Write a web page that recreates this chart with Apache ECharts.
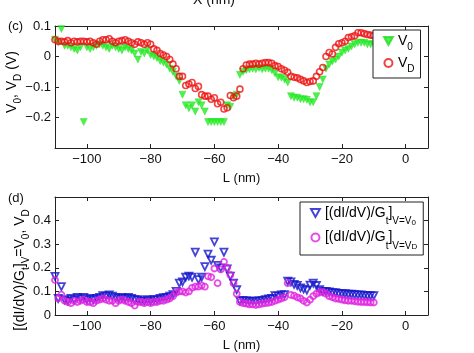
<!DOCTYPE html>
<html>
<head>
<meta charset="utf-8">
<script src="https://cdn.jsdelivr.net/npm/echarts@6/dist/echarts.min.js"></script>
<style>
  html, body { margin: 0; padding: 0; background: #fff; }
  #chart { width: 474px; height: 353px; }
</style>
</head>
<body>
<div id="chart"></div>
<script>
// position along the line (nm)
const L = [
  -110, -109, -108, -107, -106, -105, -104, -103, -102, -101,
  -100, -99, -98, -97, -96, -95, -94, -93, -92, -91,
  -90, -89, -88, -87, -86, -85, -84, -83, -82, -81,
  -80, -79, -78, -77, -76, -75, -74, -73, -72, -71,
  -70, -69, -68, -67, -66, -65, -64, -63, -62, -61,
  -60, -59, -58, -57, -56, -55, -54, -53, -52, -51,
  -50, -49, -48, -47, -46, -45, -44, -43, -42, -41,
  -40, -39, -38, -37, -36, -35, -34, -33, -32, -31,
  -30, -29, -28, -27, -26, -25, -24, -23, -22, -21,
  -20, -19, -18, -17, -16, -15, -14, -13, -12, -11, -10
];
// (c) V0
const V0 = [
  0.055, 0.045, 0.09, 0.035, 0.035, 0.03, 0.025, 0.02, 0.03, -0.215,
  0.03, 0.025, 0.03, 0.035, 0.04, 0.035, 0.03, 0.025, 0.035, 0.03,
  0.025, 0.02, 0.03, 0.025, 0.02, 0.01, -0.01, 0.015, 0.01, 0.02,
  0.005, 0.0, -0.005, -0.015, -0.02, -0.026, -0.04, -0.05, -0.065, -0.08,
  -0.125, -0.16, -0.17, -0.16, -0.18, -0.15, -0.16, -0.18, -0.215, -0.215,
  -0.215, -0.215, -0.215, -0.215, -0.16, -0.165, -0.13, -0.125, -0.06, -0.05,
  -0.045, -0.042, -0.04, -0.042, -0.038, -0.042, -0.04, -0.04, -0.045, -0.055,
  -0.068, -0.07, -0.075, -0.085, -0.13, -0.135, -0.135, -0.14, -0.14, -0.142,
  -0.15, -0.15, -0.13, -0.1, -0.075, -0.04, -0.026, -0.016, -0.01, 0.0,
  0.013, 0.02, 0.025, 0.033, 0.04, 0.045, 0.045, 0.045, 0.04, 0.04, 0.04
];
// (c) VD
const VD = [
  0.055, 0.05, 0.05, 0.048, 0.052, 0.045, 0.05, 0.048, 0.05, 0.05,
  0.048, 0.05, 0.045, 0.04, 0.05, 0.055, 0.055, 0.058, 0.05, 0.045,
  0.05, 0.052, 0.055, 0.05, 0.045, 0.04, 0.048, 0.045, 0.04, 0.045,
  0.04, 0.025, 0.02, 0.01, 0.005, 0.0, -0.01, -0.025, -0.04, -0.065,
  -0.065, -0.095, -0.09, -0.085, -0.105, -0.098, -0.125, -0.13, -0.13, -0.14,
  -0.135, -0.155, -0.15, -0.172, -0.168, -0.128, -0.135, -0.13, -0.107, -0.04,
  -0.028, -0.025, -0.025, -0.022, -0.025, -0.022, -0.02, -0.02, -0.022, -0.03,
  -0.033, -0.04, -0.045, -0.052, -0.065, -0.068, -0.07, -0.075, -0.08, -0.085,
  -0.082, -0.08, -0.065, -0.05, -0.036, 0.0, 0.013, 0.008, 0.03, 0.042,
  0.045, 0.05, 0.062, 0.065, 0.068, 0.078, 0.078, 0.075, 0.072, 0.07, 0.068
];
// (d) normalised dI/dV at V = V0
const G0 = [
  0.164, 0.07, 0.12, 0.065, 0.06, 0.07, 0.065, 0.075, 0.07, 0.075,
  0.065, 0.07, 0.065, 0.07, 0.075, 0.082, 0.08, 0.085, 0.08, 0.075,
  0.07, 0.075, 0.07, 0.075, 0.07, 0.065, 0.065, 0.06, 0.06, 0.065,
  0.06, 0.065, 0.065, 0.07, 0.074, 0.075, 0.08, 0.086, 0.1, 0.135,
  0.14, 0.16, 0.165, 0.16, 0.266, 0.15, 0.16, 0.205, 0.258, 0.232,
  0.31, 0.21, 0.2, 0.266, 0.195, 0.165, 0.135, 0.107, 0.06, 0.062,
  0.06, 0.058, 0.06, 0.058, 0.06, 0.062, 0.065, 0.068, 0.07, 0.082,
  0.08, 0.085, 0.086, 0.143, 0.14, 0.13, 0.125, 0.115, 0.11, 0.105,
  0.127, 0.135, 0.125, 0.107, 0.1, 0.1, 0.098, 0.095, 0.095, 0.092,
  0.09, 0.09, 0.088, 0.088, 0.086, 0.085, 0.085, 0.083, 0.082, 0.082, 0.082
];
// (d) normalised dI/dV at V = VD
const GD = [
  0.148, 0.07, 0.086, 0.06, 0.055, 0.05, 0.06, 0.055, 0.06, 0.065,
  0.055, 0.055, 0.05, 0.06, 0.065, 0.07, 0.065, 0.06, 0.06, 0.05,
  0.06, 0.065, 0.06, 0.055, 0.05, 0.04, 0.055, 0.055, 0.05, 0.055,
  0.05, 0.055, 0.055, 0.06, 0.06, 0.065, 0.07, 0.08, 0.094, 0.1,
  0.1, 0.095, 0.1, 0.115, 0.12, 0.12, 0.125, 0.12, 0.164, 0.16,
  0.197, 0.135, 0.193, 0.225, 0.2, 0.17, 0.135, 0.09, 0.055, 0.05,
  0.048, 0.045, 0.045, 0.042, 0.045, 0.048, 0.05, 0.052, 0.055, 0.06,
  0.065, 0.07, 0.075, 0.135, 0.085, 0.082, 0.075, 0.07, 0.06, 0.053,
  0.065, 0.08, 0.09, 0.095, 0.098, 0.09, 0.08, 0.075, 0.07, 0.068,
  0.065, 0.062, 0.06, 0.06, 0.058, 0.056, 0.055, 0.055, 0.054, 0.053, 0.053
];
const xTicks = [-100, -80, -60, -40, -20, 0];
const yTicksC = [-0.2, -0.1, 0, 0.1];
const yTicksD = [0, 0.1, 0.2, 0.3, 0.4];

const FONT = "Liberation Sans, Arial, sans-serif";
const INK = "#222";
const DOWN = "path://M0,0 L10,0 L5,9 Z";

const rich = {
  m: { fontSize: 14, fontFamily: FONT, color: "#000" },
  s: { fontSize: 10, fontFamily: FONT, color: "#000", verticalAlign: "bottom", lineHeight: 22 },
  ss: { fontSize: 8, fontFamily: FONT, color: "#000", verticalAlign: "bottom", lineHeight: 27 },
};

const minus = (v) => String(v).replace("-", "\u2212");
const pairs = (ys) => L.map((x, i) => [x, ys[i]]);

function xAxes(grid) {
  const base = {
    type: "value", gridIndex: grid, min: -110, max: 7,
    splitLine: { show: false },
    axisLine: { onZero: false, lineStyle: { color: INK } },
    axisTick: { inside: true, length: 4, customValues: xTicks, lineStyle: { color: INK } },
  };
  return [
    Object.assign({}, base, {
      position: "bottom",
      name: "L (nm)", nameLocation: "middle", nameGap: 24,
      nameTextStyle: { fontSize: 13, fontFamily: FONT, color: "#111" },
      axisLabel: { customValues: xTicks, margin: 5, fontSize: 13, fontFamily: FONT, color: "#111", formatter: minus },
    }),
    Object.assign({}, base, { position: "top", axisLabel: { show: false } }),
  ];
}

function yAxes(grid, min, max, ticks) {
  const base = {
    type: "value", gridIndex: grid, min: min, max: max,
    splitLine: { show: false },
    axisLine: { onZero: false, lineStyle: { color: INK } },
    axisTick: { inside: true, length: 4, customValues: ticks, lineStyle: { color: INK } },
  };
  return [
    Object.assign({}, base, {
      position: "left",
      axisLabel: { customValues: ticks, margin: 4, fontSize: 13, fontFamily: FONT, color: "#111", formatter: minus },
    }),
    Object.assign({}, base, { position: "right", axisLabel: { show: false } }),
  ];
}

const chart = echarts.init(document.getElementById("chart"));
const option = {
  backgroundColor: "#fff",
  animation: false,
  grid: [
    { left: 55, top: 26, width: 373, height: 122 },
    { left: 55, top: 197, width: 373, height: 121 },
  ],
  xAxis: xAxes(0).concat(xAxes(1)),
  yAxis: yAxes(0, -0.3, 0.1, yTicksC).concat(yAxes(1, 0, 0.5, yTicksD)),
  legend: [
    {
      data: [{ name: "V0", icon: DOWN }, { name: "VD", icon: "circle" }],
      orient: "vertical", left: 373, top: 30,
      backgroundColor: "#fff", borderColor: "#222", borderWidth: 1,
      padding: [4, 6, 4, 10], itemGap: 4, itemWidth: 9, itemHeight: 8,
      formatter: (n) => n === "V0" ? "{m|V}{s|0}" : "{m|V}{s|D}",
      textStyle: { rich: rich },
    },
    {
      data: [{ name: "G0", icon: DOWN }, { name: "GD", icon: "circle" }],
      orient: "vertical", left: 300, top: 202,
      backgroundColor: "#fff", borderColor: "#222", borderWidth: 1,
      padding: [4, 6, 4, 10], itemGap: 4, itemWidth: 9, itemHeight: 8,
      formatter: (n) => n === "G0"
        ? "{m|[(dI/dV)/G}{s|t}{m|]}{s|V=V}{ss|0}"
        : "{m|[(dI/dV)/G}{s|t}{m|]}{s|V=V}{ss|D}",
      textStyle: { rich: rich },
    },
  ],
  series: [
    {
      name: "V0", type: "scatter", xAxisIndex: 0, yAxisIndex: 0,
      symbol: "triangle", symbolRotate: 180, symbolSize: 7,
      itemStyle: { color: "#22ee22", borderColor: "#22dd22", borderWidth: 0.5 },
      data: pairs(V0),
    },
    {
      name: "VD", type: "scatter", xAxisIndex: 0, yAxisIndex: 0,
      symbol: "circle", symbolSize: 6,
      itemStyle: { color: "transparent", borderColor: "#ee1111", borderWidth: 1.6 },
      data: pairs(VD),
    },
    {
      name: "G0", type: "scatter", xAxisIndex: 2, yAxisIndex: 2,
      symbol: "triangle", symbolRotate: 180, symbolSize: 7,
      itemStyle: { color: "transparent", borderColor: "#1515cc", borderWidth: 1.8 },
      data: pairs(G0),
    },
    {
      name: "GD", type: "scatter", xAxisIndex: 2, yAxisIndex: 2,
      symbol: "circle", symbolSize: 6,
      itemStyle: { color: "transparent", borderColor: "#e020e0", borderWidth: 1.8 },
      data: pairs(GD),
    },
  ],
  graphic: [
    { type: "text", left: 193, top: -7, style: { text: "X (nm)", fontSize: 14, fontFamily: FONT, fill: "#111" } },
    { type: "text", left: 8, top: 20, style: { text: "(c)", fontSize: 13, fontFamily: FONT, fill: "#111" } },
    { type: "text", left: 8, top: 192, style: { text: "(d)", fontSize: 13, fontFamily: FONT, fill: "#111" } },
    {
      type: "text", x: 12, y: 82, rotation: Math.PI / 2,
      style: {
        text: "{m|V}{s|0}{m|, V}{s|D}{m| (V)}", rich: rich,
        align: "center", verticalAlign: "middle",
      },
    },
    {
      type: "text", x: 20, y: 270, rotation: Math.PI / 2,
      style: {
        text: "{m|[(dI/dV)/G}{s|t}{m|]}{s|V}{m|=V}{s|0}{m|, V}{s|D}", rich: rich,
        align: "center", verticalAlign: "middle",
      },
    },
  ],
};
chart.setOption(option);
</script>
</body>
</html>
